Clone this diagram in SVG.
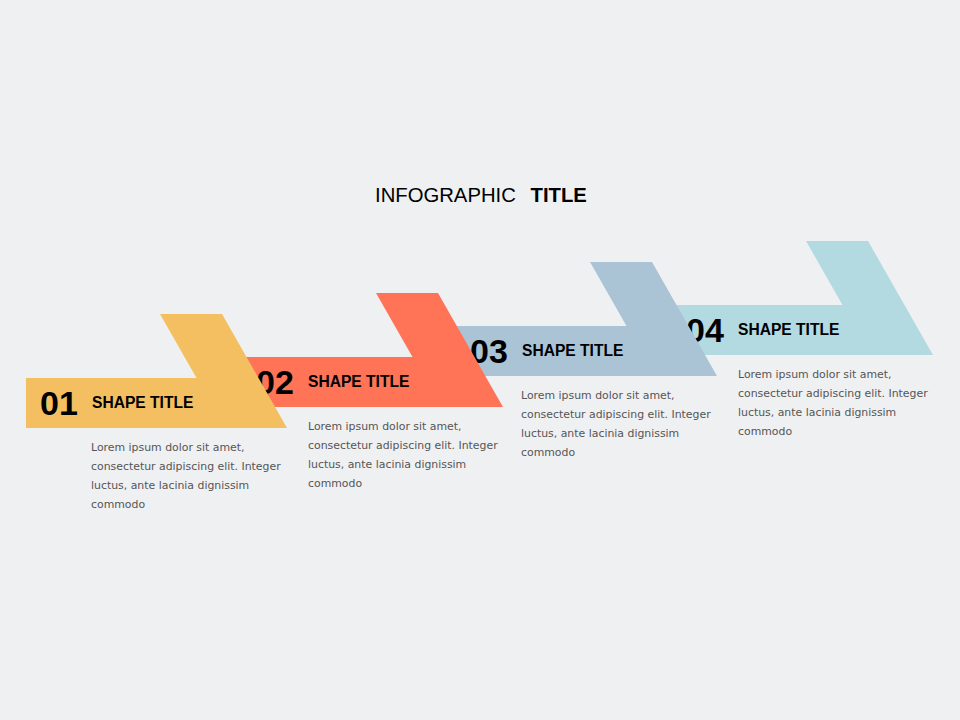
<svg xmlns="http://www.w3.org/2000/svg" width="960" height="720" viewBox="0 0 960 720">
  <defs>
    <style>
      .num { font-family: "Liberation Sans", Arial, sans-serif; font-weight: bold; font-size: 34px; fill: #000; }
      .ttl { font-family: "Liberation Sans", Arial, sans-serif; font-weight: bold; font-size: 15.6px; fill: #000; }
      .body { font-family: "DejaVu Sans", Verdana, sans-serif; font-size: 10.9px; fill: #555555; }
      .head { font-family: "Liberation Sans", Arial, sans-serif; font-size: 20.3px; fill: #000; }
    </style>
    <polygon id="chev" points="26,378 196.5,378 160,314 222,314 287,428 26,428"/>
  </defs>
  <rect width="960" height="720" fill="#EFF0F2"/>
  <text class="head" x="375" y="202">INFOGRAPHIC <tspan font-weight="bold" dx="9">TITLE</tspan></text>

  <g id="node4" transform="translate(646,-73)">
    <use href="#chev" fill="#B3D9E1"/>
    <text class="num" x="40" y="415">04</text>
    <text class="ttl" x="92" y="408">SHAPE TITLE</text>
    <text class="body" x="92" y="451">Lorem ipsum dolor sit amet,</text>
    <text class="body" x="92" y="470">consectetur adipiscing elit. Integer</text>
    <text class="body" x="92" y="489">luctus, ante lacinia dignissim</text>
    <text class="body" x="92" y="508">commodo</text>
  </g>
  <g id="node3" transform="translate(430,-52)">
    <use href="#chev" fill="#AAC4D6"/>
    <text class="num" x="40" y="415">03</text>
    <text class="ttl" x="92" y="408">SHAPE TITLE</text>
    <text class="body" x="91" y="451">Lorem ipsum dolor sit amet,</text>
    <text class="body" x="91" y="470">consectetur adipiscing elit. Integer</text>
    <text class="body" x="91" y="489">luctus, ante lacinia dignissim</text>
    <text class="body" x="91" y="508">commodo</text>
  </g>
  <g id="node2" transform="translate(216,-21)">
    <use href="#chev" fill="#FF7457"/>
    <text class="num" x="40" y="415">02</text>
    <text class="ttl" x="92" y="408">SHAPE TITLE</text>
    <text class="body" x="92" y="451">Lorem ipsum dolor sit amet,</text>
    <text class="body" x="92" y="470">consectetur adipiscing elit. Integer</text>
    <text class="body" x="92" y="489">luctus, ante lacinia dignissim</text>
    <text class="body" x="92" y="508">commodo</text>
  </g>
  <g id="node1">
    <use href="#chev" fill="#F3BF61"/>
    <text class="num" x="40" y="415">01</text>
    <text class="ttl" x="92" y="408">SHAPE TITLE</text>
    <text class="body" x="91" y="451">Lorem ipsum dolor sit amet,</text>
    <text class="body" x="91" y="470">consectetur adipiscing elit. Integer</text>
    <text class="body" x="91" y="489">luctus, ante lacinia dignissim</text>
    <text class="body" x="91" y="508">commodo</text>
  </g>
</svg>
